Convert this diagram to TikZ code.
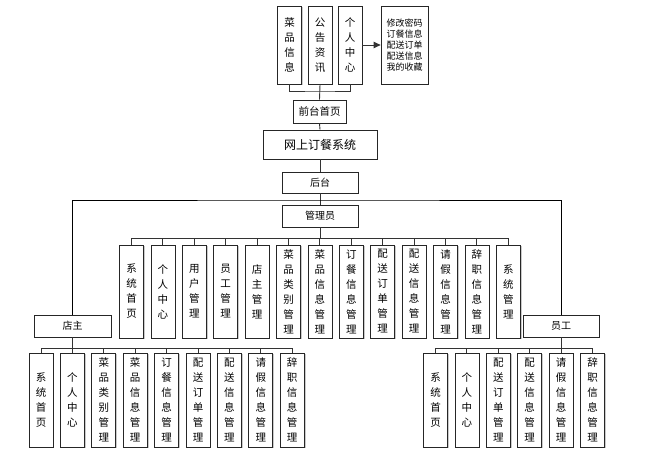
\documentclass[tikz,border=0pt]{standalone}
\usepackage{fontspec}
\setmainfont{Noto Sans CJK SC}
\usetikzlibrary{arrows.meta,shadows}
\begin{document}
\begin{tikzpicture}[x=1pt,y=-1pt,
  box/.style={draw=black!85, line width=0.8pt, fill=white, inner sep=0pt,
    drop shadow={shadow xshift=1.3pt, shadow yshift=-1.3pt, fill=black!35, opacity=0.6}},
  vbox/.style={box, minimum width=24pt, align=center, font=\fontsize{10.5}{15}\selectfont},
  hbox/.style={box, font=\fontsize{10}{12}\selectfont},
  link/.style={draw=black!80, line width=0.9pt}]
\useasboundingbox (0,0) rectangle (669,468);

% front end
\node[vbox, minimum height=78pt] (t1) at (289.5,45) {菜\\品\\信\\息};
\node[vbox, minimum height=78pt] (t2) at (320,45) {公\\告\\资\\讯};
\node[vbox, minimum height=78pt] (t3) at (350,45) {个\\人\\中\\心};
\node[box, minimum width=47pt, minimum height=78pt, align=center,
      font=\fontsize{9}{11}\selectfont] (tr) at (404.5,45)
      {修改密码\\订餐信息\\配送订单\\配送信息\\我的收藏};
\node[hbox, minimum width=53pt, minimum height=23pt, font=\fontsize{10.5}{12}\selectfont] (qt) at (319.5,111.5) {前台首页};
\node[hbox, minimum width=114pt, minimum height=29pt, font=\fontsize{12}{14}\selectfont] (sys) at (320,144.5) {网上订餐系统};
\node[hbox, minimum width=76pt, minimum height=21pt] (ht) at (320,182.5) {后台};
\node[hbox, minimum width=76pt, minimum height=22pt] (gly) at (320,216) {管理员};
\node[hbox, minimum width=77pt, minimum height=22pt] (dz) at (72.5,326) {店主};
\node[hbox, minimum width=76pt, minimum height=22pt] (yg) at (561,326) {员工};

\coordinate (tb) at (320,91);
\draw[link] (t1.south) |- (tb) -| (t3.south);
\draw[link] (t2.south) -- (qt.north);
\draw[link, -{Triangle[length=7pt,width=6.5pt]}] (t3.east) -- (tr.west);
\draw[link] (qt.south) -- (sys.north);
\draw[link] (sys.south) -- (ht.north);
\draw[link] (ht.south) -- (gly.north);

\coordinate (hl) at (320,200);
\draw[link, black] (dz.north) |- (hl) -| (yg.north);

% administrator functions
\coordinate (abar) at (320,238);
\foreach \i/\t in {1/{系\\统\\首\\页}, 2/{个\\人\\中\\心}, 3/{用\\户\\管\\理},
  4/{员\\工\\管\\理}, 5/{店\\主\\管\\理}, 6/{菜\\品\\类\\别\\管\\理},
  7/{菜\\品\\信\\息\\管\\理}, 8/{订\\餐\\信\\息\\管\\理}, 9/{配\\送\\订\\单\\管\\理},
  10/{配\\送\\信\\息\\管\\理}, 11/{请\\假\\信\\息\\管\\理}, 12/{辞\\职\\信\\息\\管\\理},
  13/{系\\统\\管\\理}}{
  \node[vbox, minimum height=93pt] (a\i) at ({131.5+31.4*(\i-1)},291.5) {\t};
  \draw[link] (a\i.north) -- (a\i.north |- abar);
}
\draw[link] (a1.north |- abar) -- (a13.north |- abar);
\draw[link] (gly.south) -- (abar);

% shop owner functions
\coordinate (sbar) at (72.5,348);
\foreach \i/\t in {1/{系\\统\\首\\页}, 2/{个\\人\\中\\心}, 3/{菜\\品\\类\\别\\管\\理},
  4/{菜\\品\\信\\息\\管\\理}, 5/{订\\餐\\信\\息\\管\\理}, 6/{配\\送\\订\\单\\管\\理},
  7/{配\\送\\信\\息\\管\\理}, 8/{请\\假\\信\\息\\管\\理}, 9/{辞\\职\\信\\息\\管\\理}}{
  \node[vbox, minimum height=94pt] (s\i) at ({41+31.4*(\i-1)},400) {\t};
  \draw[link] (s\i.north) -- (s\i.north |- sbar);
}
\draw[link] (s1.north |- sbar) -- (s9.north |- sbar);
\draw[link] (dz.south) -- (sbar);

% staff functions
\coordinate (ybar) at (561,348);
\foreach \i/\t in {1/{系\\统\\首\\页}, 2/{个\\人\\中\\心}, 3/{配\\送\\订\\单\\管\\理},
  4/{配\\送\\信\\息\\管\\理}, 5/{请\\假\\信\\息\\管\\理}, 6/{辞\\职\\信\\息\\管\\理}}{
  \node[vbox, minimum height=94pt] (e\i) at ({435.5+31.4*(\i-1)},400) {\t};
  \draw[link] (e\i.north) -- (e\i.north |- ybar);
}
\draw[link] (e1.north |- ybar) -- (e6.north |- ybar);
\draw[link] (yg.south) -- (ybar);
\end{tikzpicture}
\end{document}
